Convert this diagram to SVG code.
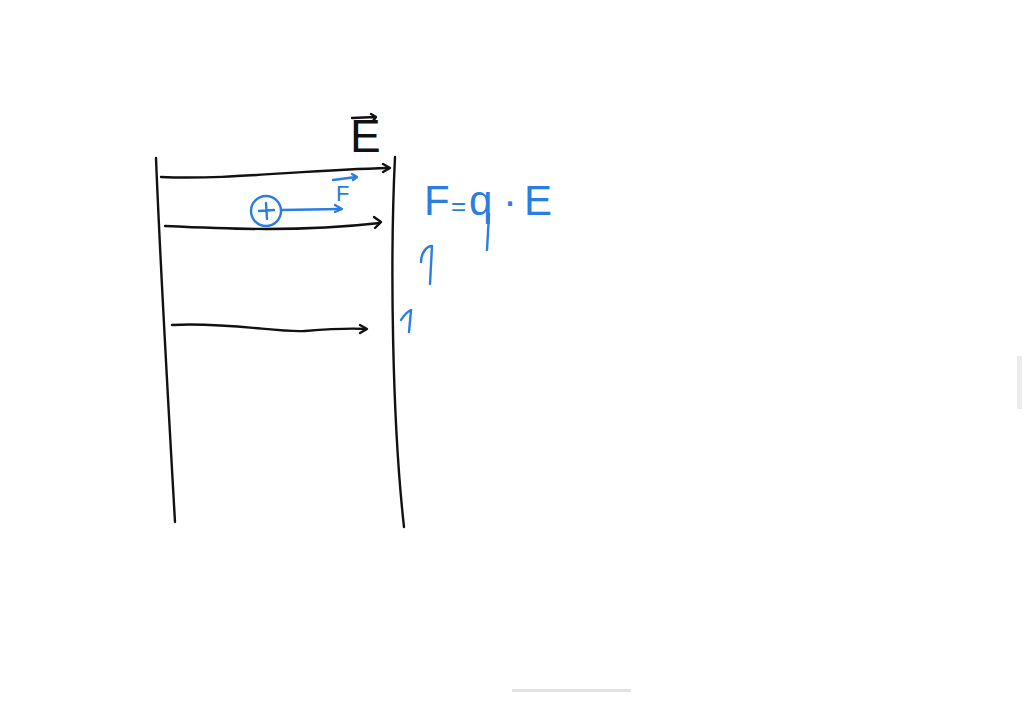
<svg xmlns="http://www.w3.org/2000/svg" width="1024" height="712" viewBox="0 0 1024 712">
<style>
.ink{fill:none;stroke:#111;stroke-width:2.4;stroke-linecap:round;stroke-linejoin:round}
.blue{fill:none;stroke:#2a7de1;stroke-width:2.4;stroke-linecap:round;stroke-linejoin:round}
.tb{font-family:"Liberation Sans",Arial,sans-serif;fill:#111}
.tbl{font-family:"Liberation Sans",Arial,sans-serif;fill:#2a7de1}
</style>
<rect width="1024" height="712" fill="#fff"/>
<g id="plates">
<path class="ink" d="M156,158 C160,260 168,400 175,522"/>
<path class="ink" d="M395,157 C390,260 392,420 404,527"/>
</g>
<g id="connectors">
<path class="ink" d="M161,177 C230,180 300,170 389,168"/>
<path class="ink" d="M383,164 L390,168 L383,172"/>
<path class="ink" d="M165,226 C230,229 300,232 380,223"/>
<path class="ink" d="M374,217 L381,222 L375,228"/>
<path class="ink" d="M172,325 C230,322 280,333 305,331 C330,329 350,328 366,329"/>
<path class="ink" d="M360,325 L367,329 L360,333"/>
<path class="blue" d="M281,210 L341,209"/>
<path class="blue" d="M335,205 L342,209 L335,212"/>
</g>
<g id="E-label">
<text class="tb" x="350" y="152" font-size="46">E</text>
<path class="ink" d="M352,118 L375,117 M371,114 L376,117 L373,121"/>
</g>
<g id="charge">
<circle class="blue" cx="266" cy="211" r="15"/>
<path class="blue" d="M259,211 L274,210 M266,203 L267,219"/>
</g>
<g id="F-label">
<text class="tbl" x="336" y="201" font-size="22">F</text>
<path class="blue" d="M333,180 L356,177 M352,174 L357,177 L353,180"/>
</g>
<g id="formula">
<text class="tbl" font-size="42" y="215"><tspan x="424">F</tspan><tspan x="451" font-size="26">=</tspan><tspan x="469">q</tspan><tspan x="503">·</tspan><tspan x="524">E</tspan></text>
<path class="blue" d="M489,214 L487,250"/>
</g>
<g id="marks">
<path class="blue" d="M421,262 C421,254 426,246 432,246 L430,284"/>
<path class="blue" d="M401,320 C404,315 407,312 411,310 L409,332"/>
</g>
<g id="ui">
<rect x="512" y="689" width="119" height="3" fill="#e2e2e2"/>
<rect x="1017" y="356" width="5" height="53" fill="#ececec"/>
</g>
</svg>
